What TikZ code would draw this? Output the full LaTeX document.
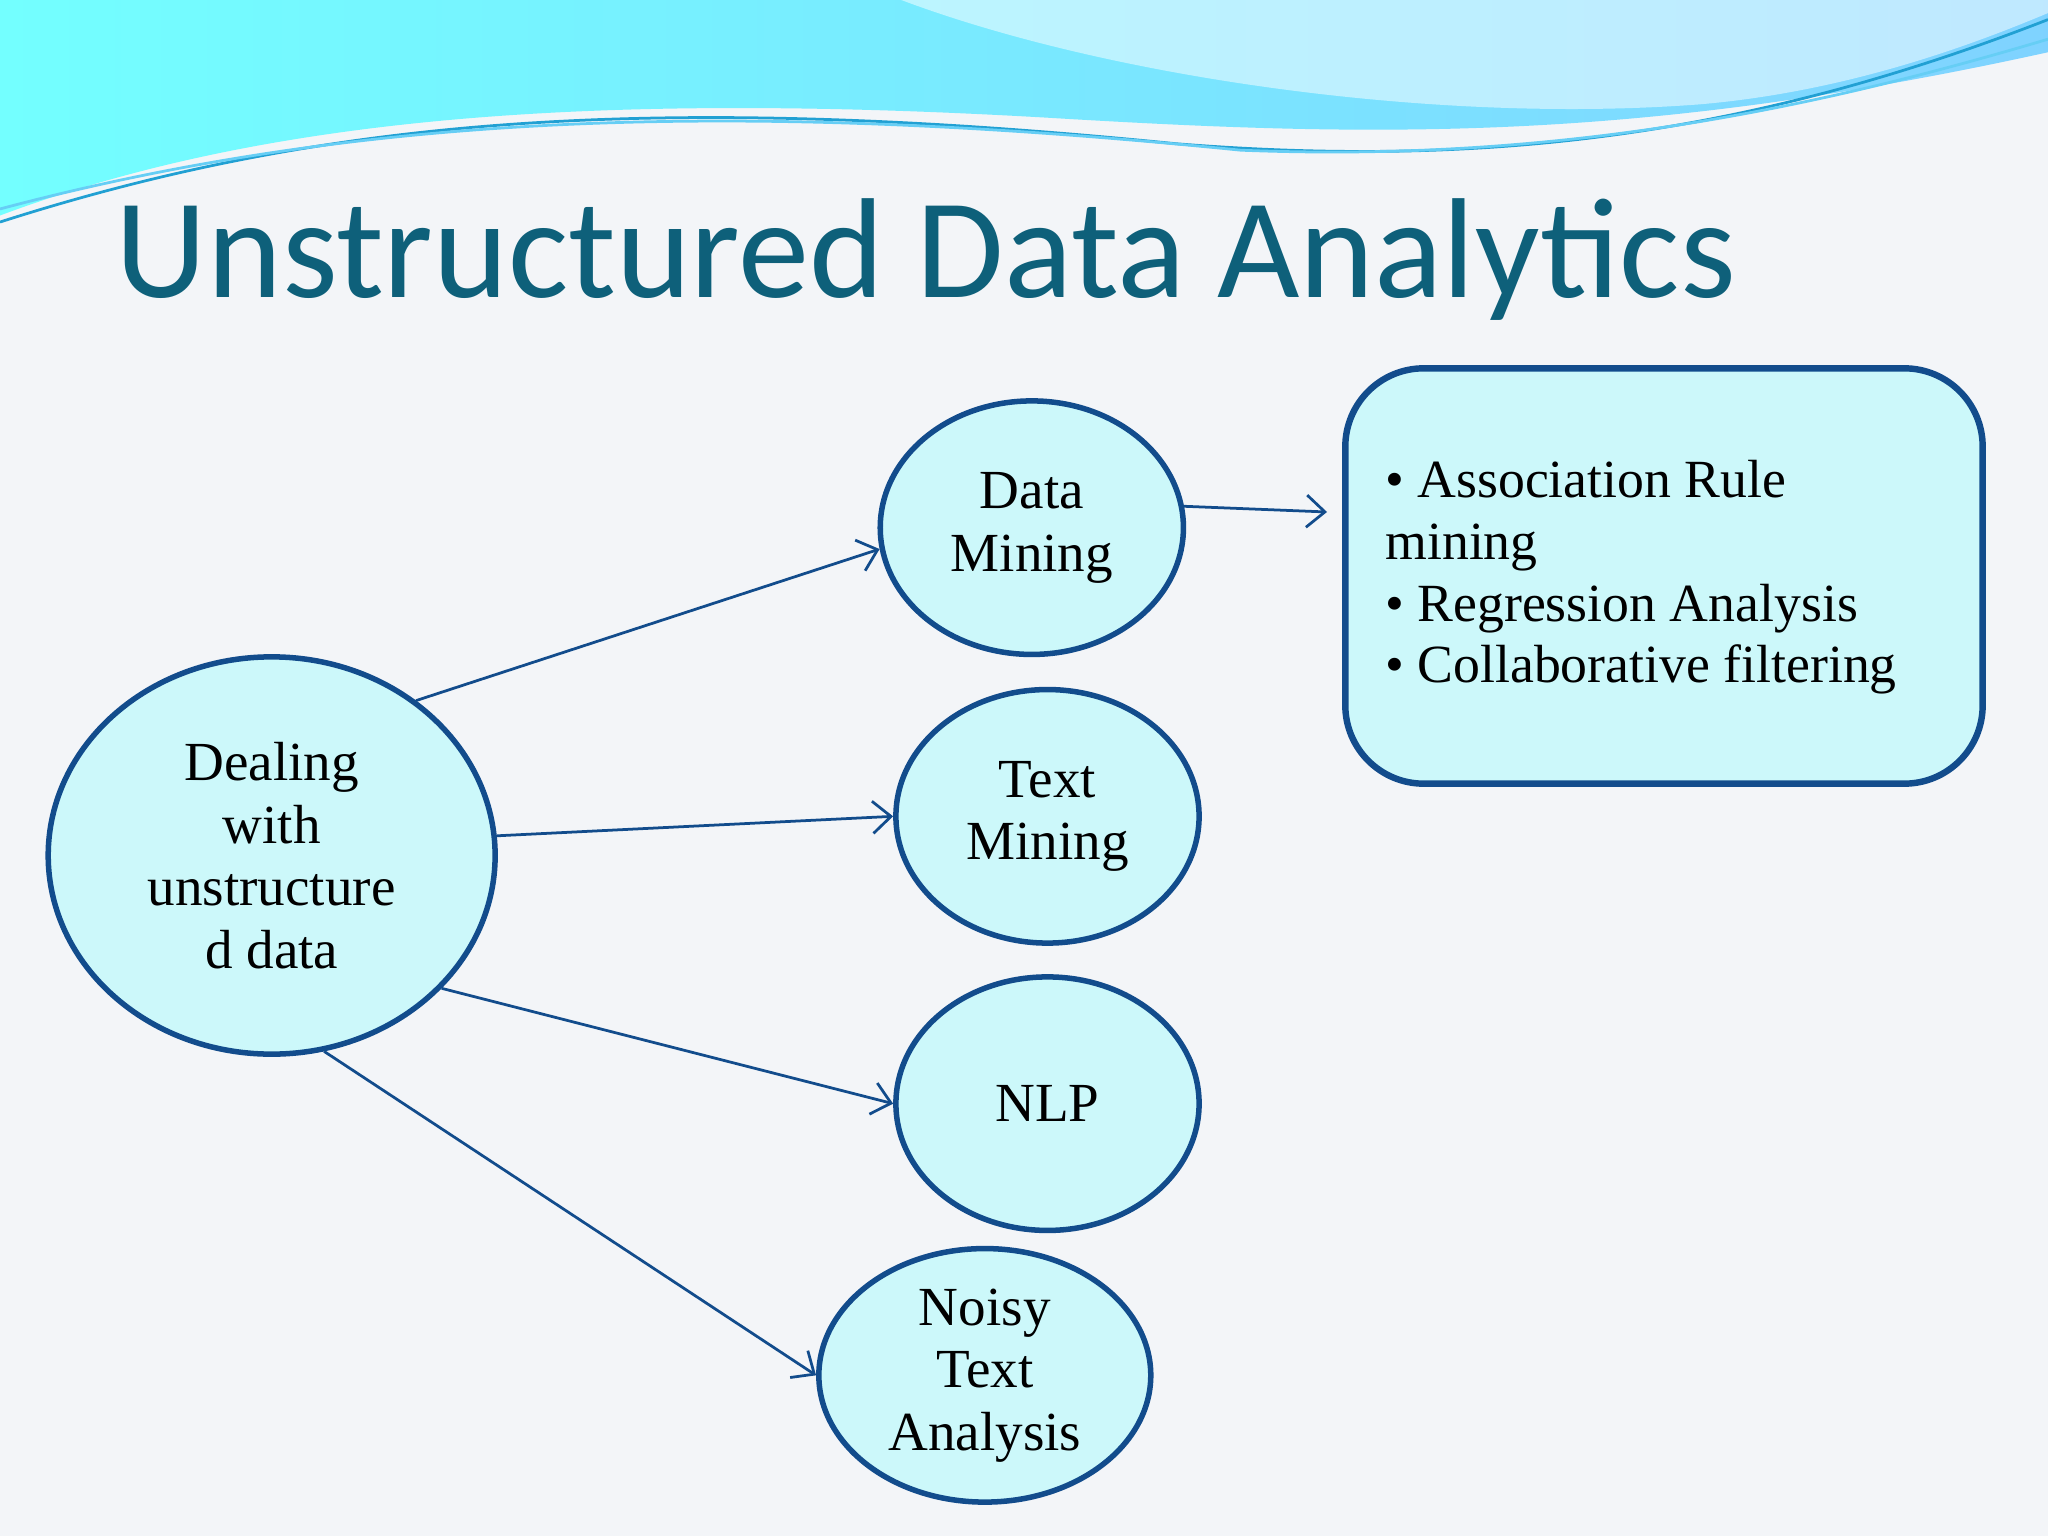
\documentclass[tikz,border=0pt]{standalone}
\usepackage{fontspec}
\setmainfont{Liberation Serif}
\newfontfamily\titlefont{Carlito}
\usetikzlibrary{arrows.meta,shapes.geometric}
\definecolor{bg}{HTML}{F3F5F8}
\definecolor{ell}{HTML}{CCF8FA}
\definecolor{edge}{HTML}{124C8C}
\definecolor{ttl}{HTML}{0E607A}
\tikzset{
  bub/.style={draw=edge,line width=1.2pt,fill=ell,ellipse,align=center,font=\fontsize{12}{13.6}\selectfont,inner sep=0pt},
  conn/.style={draw=edge,line width=0.6pt,-{Straight Barb[length=4pt,width=7pt]}}
}
\begin{document}
\begin{tikzpicture}[x=0.01cm,y=-0.01cm]
\fill[bg] (0,0) rectangle (1568,1176);
\useasboundingbox (0,0) rectangle (1568,1176);
% waves
\shade[left color=cyan!55!white, right color=blue!35!cyan!50!white]
 (0,0) -- (0,165) .. controls (200,90) and (450,70) .. (800,90)
 .. controls (1050,105) and (1250,110) .. (1568,40) -- (1568,0) -- cycle;
\fill[white,opacity=0.5] (690,0) .. controls (850,60) and (1100,95) .. (1300,80)
 .. controls (1420,70) and (1520,30) .. (1568,10) -- (1568,0) -- cycle;
\draw[cyan!70!teal,line width=0.6pt] (0,170) .. controls (250,90) and (500,70) .. (900,110) .. controls (1150,130) and (1350,100) .. (1568,15);
\draw[cyan!60!white,line width=0.6pt] (0,160) .. controls (300,80) and (600,80) .. (950,115) .. controls (1200,125) and (1400,80) .. (1568,30);
\node[anchor=base west,text=ttl,inner sep=0pt] (title) at (88,228) {\titlefont\fontsize{31}{36}\selectfont Unstructured Data Analytics};
% nodes
\node[bub,minimum width=3.42cm,minimum height=3.04cm] (deal) at (208,655) {Dealing\\with\\unstructure\\d data};
\node[bub,minimum width=2.32cm,minimum height=1.94cm] (dm) at (790,404) {Data\\Mining};
\node[bub,minimum width=2.32cm,minimum height=1.94cm] (tm) at (802,625) {Text\\Mining};
\node[bub,minimum width=2.32cm,minimum height=1.94cm] (nlp) at (802,845) {NLP};
\node[bub,minimum width=2.54cm,minimum height=1.94cm] (nta) at (754,1053) {Noisy\\Text\\Analysis};
\draw[draw=edge,line width=1.4pt,fill=ell,rounded corners=0.6cm] (1030,282) rectangle (1518,600);
\node[anchor=north west,align=left,inner sep=0pt,font=\fontsize{11.7}{13.4}\selectfont] (lst) at (1060,352)
 {• Association Rule\\mining\\• Regression Analysis\\• Collaborative filtering};
\coordinate (lend) at (1016,392);
% connectors
\draw[conn] (deal.47) -- (dm.188);
\draw[conn] (deal.5) -- (tm.west);
\draw[conn] (deal.-38) -- (nlp.west);
\draw[conn] (deal.-75) -- (nta.west);
\draw[conn] (dm.8) -- (lend);
\end{tikzpicture}
\end{document}
